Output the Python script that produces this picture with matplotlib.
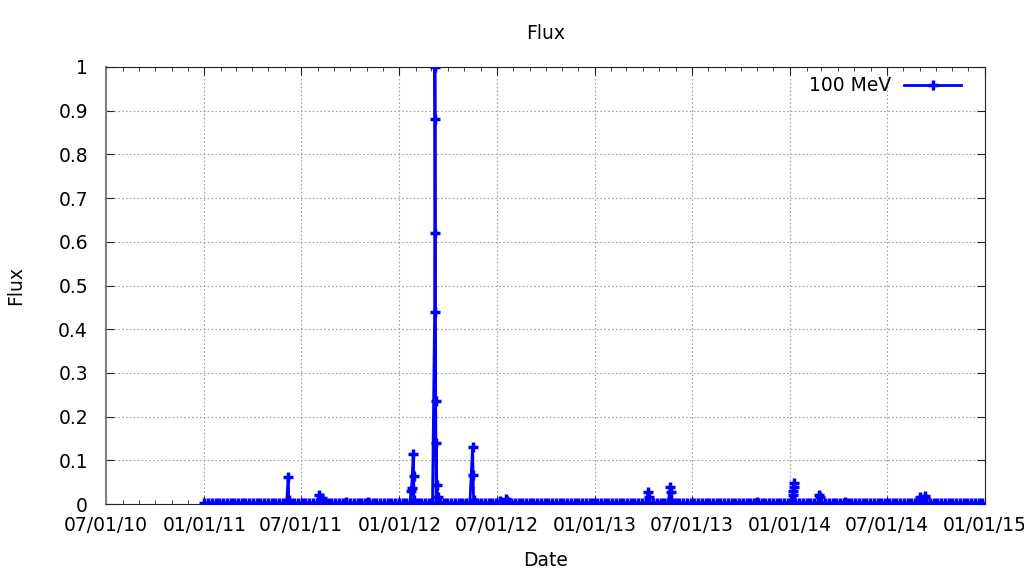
import numpy as np
import pandas as pd
import matplotlib
matplotlib.use("Agg")
import matplotlib.pyplot as plt
import matplotlib.dates as mdates

# ── Data: quiet-time baseline (weekly, in 1e-3 units) + event peaks ───────
base_dates = pd.date_range("2011-01-01", "2014-12-31", freq="7D")
base_2011 = "2232222322 2322223223 2223222223 2232222322 3222232222 232"
base_2012 = "2223222322 3222223222 2322232222 3222322223 2223222232 22"
base_2013 = "3222232222 2322223222 3222232222 2232222322 2223222232 22"
base_2014 = "2232222223 2222322232 2222322223 2222322232 2223222322 23"
base_flux = [int(c) / 1000 for c in (base_2011 + base_2012 + base_2013 + base_2014)
             if c != " "]

event_dates = [
    "2011-06-07 00:00", "2011-06-08 00:00",
    "2011-08-04 00:00", "2011-08-09 00:00", "2011-08-10 00:00",
    "2011-09-23 00:00", "2011-11-04 00:00",
    "2012-01-23 00:00", "2012-01-24 00:00", "2012-01-27 00:00", "2012-01-28 00:00", "2012-01-29 00:00",
    "2012-03-07 00:00", "2012-03-07 12:00", "2012-03-08 00:00", "2012-03-08 12:00",
    "2012-03-09 00:00", "2012-03-10 00:00", "2012-03-11 00:00", "2012-03-13 00:00",
    "2012-05-17 00:00", "2012-05-18 00:00", "2012-05-19 00:00",
    "2012-07-07 00:00", "2012-07-19 00:00", "2012-07-20 00:00",
    "2013-04-11 00:00", "2013-04-12 00:00",
    "2013-05-22 00:00", "2013-05-23 00:00", "2013-05-24 00:00",
    "2013-10-31 00:00",
    "2014-01-06 00:00", "2014-01-07 00:00", "2014-01-08 00:00", "2014-01-09 00:00",
    "2014-02-25 00:00", "2014-02-26 00:00",
    "2014-04-14 00:00",
    "2014-09-01 00:00", "2014-09-02 00:00", "2014-09-10 00:00", "2014-09-11 00:00",
]
event_flux = [
    0.062, 0.010,
    0.020, 0.014, 0.008,
    0.005, 0.004,
    0.030, 0.037, 0.114, 0.064, 0.010,
    0.440, 1.000, 0.880, 0.620,
    0.235, 0.140, 0.043, 0.015,
    0.131, 0.066, 0.010,
    0.008, 0.012, 0.008,
    0.028, 0.015,
    0.038, 0.028, 0.010,
    0.005,
    0.020, 0.030, 0.048, 0.040,
    0.020, 0.015,
    0.005,
    0.015, 0.012, 0.018, 0.013,
]

df = pd.concat([
    pd.DataFrame({"date": base_dates, "flux": base_flux}),
    pd.DataFrame({"date": pd.to_datetime(event_dates, format="%Y-%m-%d %H:%M"),
                  "flux": event_flux}),
]).sort_values("date")

# ── Plot ───────────────────────────────────────────────────────────────────
plt.rcParams["font.family"] = "DejaVu Sans"
fig = plt.figure(figsize=(10.24, 5.76), dpi=100)
ax = fig.add_axes([106 / 1024, 72 / 576, 879 / 1024, 437 / 576])

ax.plot(df["date"], df["flux"], color="#0000ff", lw=2, marker="+",
        ms=7.5, mew=2.5, label="100 MeV", zorder=3)

ax.set_xlim(pd.Timestamp("2010-07-01"), pd.Timestamp("2015-01-01"))
ax.set_ylim(0, 1)
ax.set_yticks(np.arange(0, 1.01, 0.1))
ax.yaxis.set_major_formatter(matplotlib.ticker.FuncFormatter(lambda v, p: f"{v:g}"))
ax.xaxis.set_major_locator(mdates.MonthLocator(bymonth=[1, 7]))
ax.xaxis.set_minor_locator(mdates.MonthLocator())
ax.xaxis.set_major_formatter(mdates.DateFormatter("%m/%d/%y"))

ax.tick_params(which="both", direction="in", top=True, right=True,
               labelsize=13.5, color="#222222")
ax.tick_params(axis="x", pad=8.5)
ax.tick_params(axis="y", pad=13)
ax.tick_params(which="major", length=6)
ax.tick_params(which="minor", length=3)
ax.grid(True, which="major", color="#a0a0a0", ls=(0, (1.5, 2)), lw=0.8)

for s in ["top", "right", "bottom"]:
    ax.spines[s].set_color("#222222")
ax.spines["left"].set_color("#808080")
ax.spines["left"].set_linewidth(1.5)

ax.set_title("Flux", fontsize=13.5, pad=20)
ax.set_xlabel("Date", fontsize=13.5, labelpad=11.5)
ax.set_ylabel("Flux", fontsize=13.5, labelpad=24)

ax.legend(loc="upper right", bbox_to_anchor=(0.983, 1.0), frameon=False,
          markerfirst=False, fontsize=13.5, handlelength=3.0,
          borderaxespad=0.1, handletextpad=0.7)

fig.savefig("out.png", dpi=100)
